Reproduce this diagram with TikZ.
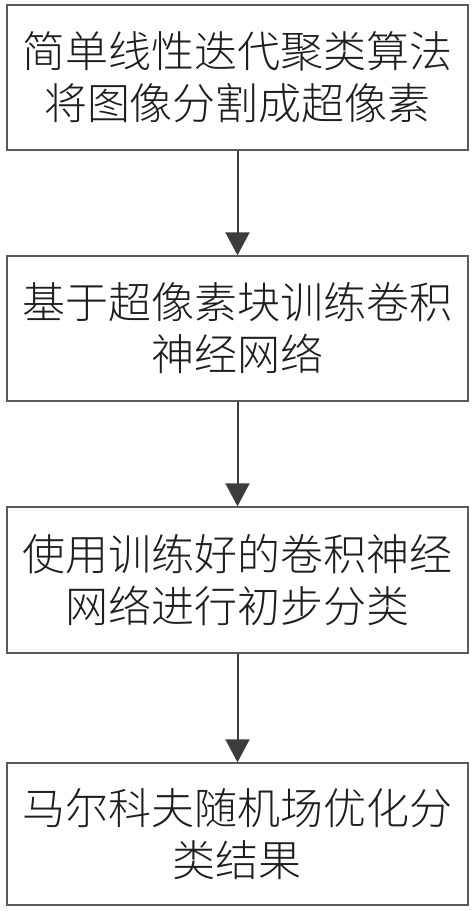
\documentclass[tikz,border=0pt]{standalone}
\usepackage{fontspec}
\newfontfamily\cjk[UprightFont={* Light}]{Noto Sans CJK SC}
\usetikzlibrary{arrows.meta}
\definecolor{boxline}{HTML}{5A5A5A}
\definecolor{arrowc}{HTML}{3C3C3C}
\definecolor{txt}{HTML}{1E1E1E}
\tikzset{
  stepbox/.style={draw=boxline, line width=1.3pt, rectangle, inner sep=0pt,
    text width=461pt, minimum height=#1, align=center, text=txt,
    font=\cjk\fontsize{43pt}{52pt}\selectfont},
  flowarrow/.style={draw=arrowc, line width=2pt,
    -{Triangle[width=24pt,length=23pt]}}
}
\begin{document}
\begin{tikzpicture}[x=1pt,y=1pt]
\useasboundingbox (0,0) rectangle (474,-911);
\fill[white] (0,0) rectangle (474,-911);
\node[stepbox=145pt] (b1) at (237.5,-77.5) {简单线性迭代聚类算法\\将图像分割成超像素};
\node[stepbox=145pt] (b2) at (237.5,-328.5) {基于超像素块训练卷积\\神经网络};
\node[stepbox=146pt] (b3) at (237.5,-580) {使用训练好的卷积神经\\网络进行初步分类};
\node[stepbox=142pt] (b4) at (237.5,-834) {马尔科夫随机场优化分\\类结果};
\draw[flowarrow] (b1.south) -- (b2.north);
\draw[flowarrow] (b2.south) -- (b3.north);
\draw[flowarrow] (b3.south) -- (b4.north);
\end{tikzpicture}
\end{document}
